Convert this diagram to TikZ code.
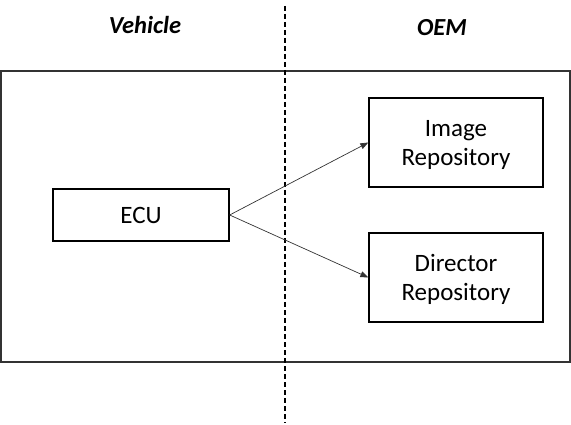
\documentclass[tikz,border=0pt]{standalone}
\usepackage{fontspec}
\setmainfont{Carlito}
\usetikzlibrary{arrows.meta}
\newcommand{\twolines}[2]{\raisebox{-3pt}[\height][\depth]{\begin{tabular}{@{}c@{}}#1\\#2\end{tabular}}}
\begin{document}
\begin{tikzpicture}[x=1pt,y=-1pt,
  box/.style={draw=black,line width=1.3pt,minimum width=174pt,font=\fontsize{25}{28.5}\selectfont},
  hdr/.style={font=\fontsize{24.5}{28}\selectfont\bfseries\itshape},
  conn/.style={draw=black!80,line width=0.7pt,-{Triangle[length=8pt,width=6pt]}}]
\useasboundingbox (0,0) rectangle (571,425);
\node[draw=black!80,line width=1.4pt,minimum width=569pt,minimum height=291pt,inner sep=0pt] (outer) at (285.5,216.5) {};
\coordinate (dtop) at (285,6);
\coordinate (dbot) at (285,423);
\draw[line width=1.2pt,dash pattern=on 5pt off 3pt] (dtop) -- (dbot);
\node[hdr] (veh) at (145,24.5) {Vehicle};
\node[hdr] (oem) at (442,27.5) {OEM};
\node[box,minimum width=176pt,minimum height=52pt,inner sep=0pt] (ecu) at (141,215) {ECU};
\node[box,minimum height=89pt,inner sep=0pt] (img) at (456,142.5) {\twolines{Image}{Repository}};
\node[box,minimum height=89pt,inner sep=0pt] (dir) at (456,277.5) {\twolines{Director}{Repository}};
\draw[conn] (ecu.east) -- (img.west);
\draw[conn] (ecu.east) -- (dir.west);
\end{tikzpicture}
\end{document}
